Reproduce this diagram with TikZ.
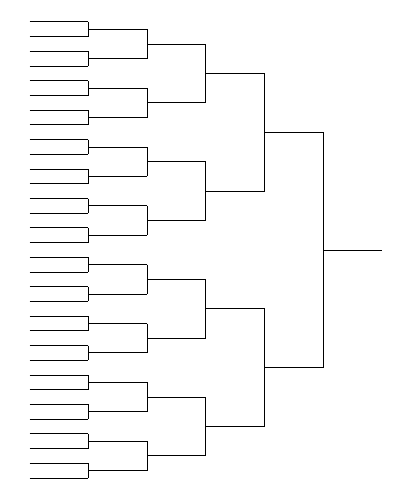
\documentclass[tikz,border=0pt]{standalone}
\usetikzlibrary{calc}
\begin{document}
\begin{tikzpicture}[x=1pt,y=-1pt,wire/.style={draw=black,line width=1pt}]
\useasboundingbox (0,0) rectangle (412,500);
\foreach \i in {0,...,31} {
  \coordinate (s\i) at (29.5,{22+\i*14.71});
  \coordinate (e0-\i) at (88.3,{22+\i*14.71});
  \draw[wire] (s\i) -- (e0-\i);
}
\foreach \r/\p/\n in {1/0/15,2/1/7,3/2/3,4/3/1,5/4/0} {
  \foreach \j in {0,...,\n} {
    \pgfmathtruncatemacro\a{2*\j}
    \pgfmathtruncatemacro\b{2*\j+1}
    \coordinate (m\r-\j) at ($(e\p-\a)!0.5!(e\p-\b)$);
    \coordinate (e\r-\j) at ($(m\r-\j)+(58.8,0)$);
    \draw[wire] (e\p-\a) -- (e\p-\b);
    \draw[wire] (m\r-\j) -- (e\r-\j);
  }
}
\end{tikzpicture}
\end{document}
